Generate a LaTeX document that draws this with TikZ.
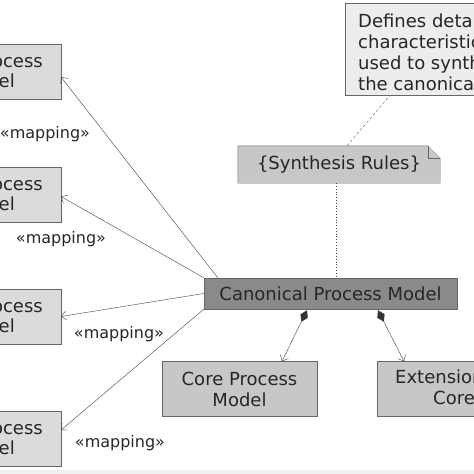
\documentclass[tikz,border=0pt]{standalone}
\usepackage{fontspec}
\setmainfont{DejaVu Sans}
\usetikzlibrary{arrows.meta,positioning,calc}
\tikzset{
    >={Straight Barb[length=5pt,width=9pt]},
    every node/.style={font=\fontsize{18}{21}\selectfont, text=black!85},
    model/.style={rectangle, draw=black!60, fill=black!14, minimum height=55pt, inner sep=0pt},
    core/.style={model, fill=black!22},
    canon/.style={model, fill=black!46, minimum height=31pt, minimum width=253pt},
    note/.style={rectangle, fill=black!22, inner sep=0pt},
    mapping/.style={->, draw=black!75},
    part/.style={{Diamond[length=13pt,width=8pt,fill=black!80]}->, draw=black!75},
    el/.style={inner sep=0pt},
    map/.style={font=\fontsize{16}{19}\selectfont}
}

\begin{document}
\begin{tikzpicture}[x=1pt,y=-1pt]
    \useasboundingbox (0,0) rectangle (474,474);
    \clip (0,0) rectangle (474,474);
    \fill[black!6] (0,470) rectangle (474,474);

    % process models on the left
    \foreach \n/\y in {1/71.5, 2/194.5, 3/316.5, 4/439} {
        \node[model, minimum width=130pt, anchor=east] (\n) at (61,\y) {};
        \node[el, anchor=base east] at (43,\y-4.5) {Process};
        \node[el, anchor=base east] at (15,\y+15.5) {Model};
    }

    \node[canon] (9) at (330.5,293.5) {Canonical Process Model};
    \node[core, minimum width=155pt, align=center] (10) at (239.5,389) {Core Process\\Model};
    \node[core, minimum width=140pt, anchor=west] (11) at (377,389) {};
    \node[el, anchor=base west] at (395,383) {Extension};
    \node[el, anchor=base west] at (433,404) {Core};

    % notes
    \node[note, minimum width=202pt, minimum height=37pt] (8) at (339,164.5) {\{Synthesis Rules\}};
    \draw[black!60] (8.north west) -- ([xshift=-12pt]8.north east) -- ([yshift=-12pt]8.north east)
        -- (8.south east) -- (8.south west) -- cycle;
    \fill[white] ([xshift=-12pt]8.north east) -- (8.north east) -- ([yshift=-12pt]8.north east) -- cycle;
    \draw[black!60] ([xshift=-12pt]8.north east) |- ([yshift=-12pt]8.north east);
    \node[model, fill=black!7, anchor=north west, minimum width=200pt, minimum height=92pt] (7) at (345,3) {};
    \node[el, anchor=north west, align=left] (7t) at (358,14)
        {Defines detailed\\characteristics\\used to synthesize\\the canonical};

    \draw[black!75, dotted, thick] ([xshift=-3pt]8.south) -- ([xshift=-3pt]8.south |- 9.north);
    \draw[black!60, densely dashed] ([xshift=8pt]8.north) -- ([xshift=45pt]7.south west);

    % mappings
    \draw[mapping] ([xshift=14pt]9.north west) -- ([yshift=-5.5pt]1.east);
    \draw[mapping] (9.north west) -- ([yshift=-2pt]2.east);
    \draw[mapping] (9.west) -- (3.east);
    \draw[mapping] (9.south west) -- ([yshift=9pt]4.east);
    \node[map] (m1) at (45,134) {«mapping»};
    \node[map] (m2) at (61,239) {«mapping»};
    \node[map] (m3) at (119,334) {«mapping»};
    \node[map] (m4) at (120,443) {«mapping»};

    % parts
    \draw[part] ([xshift=-23.5pt,yshift=-1pt]9.south) -- ([xshift=42.5pt]10.north);
    \draw[part] ([xshift=47.5pt,yshift=-1pt]9.south) -- ([xshift=27pt]11.north west);
\end{tikzpicture}
\end{document}
